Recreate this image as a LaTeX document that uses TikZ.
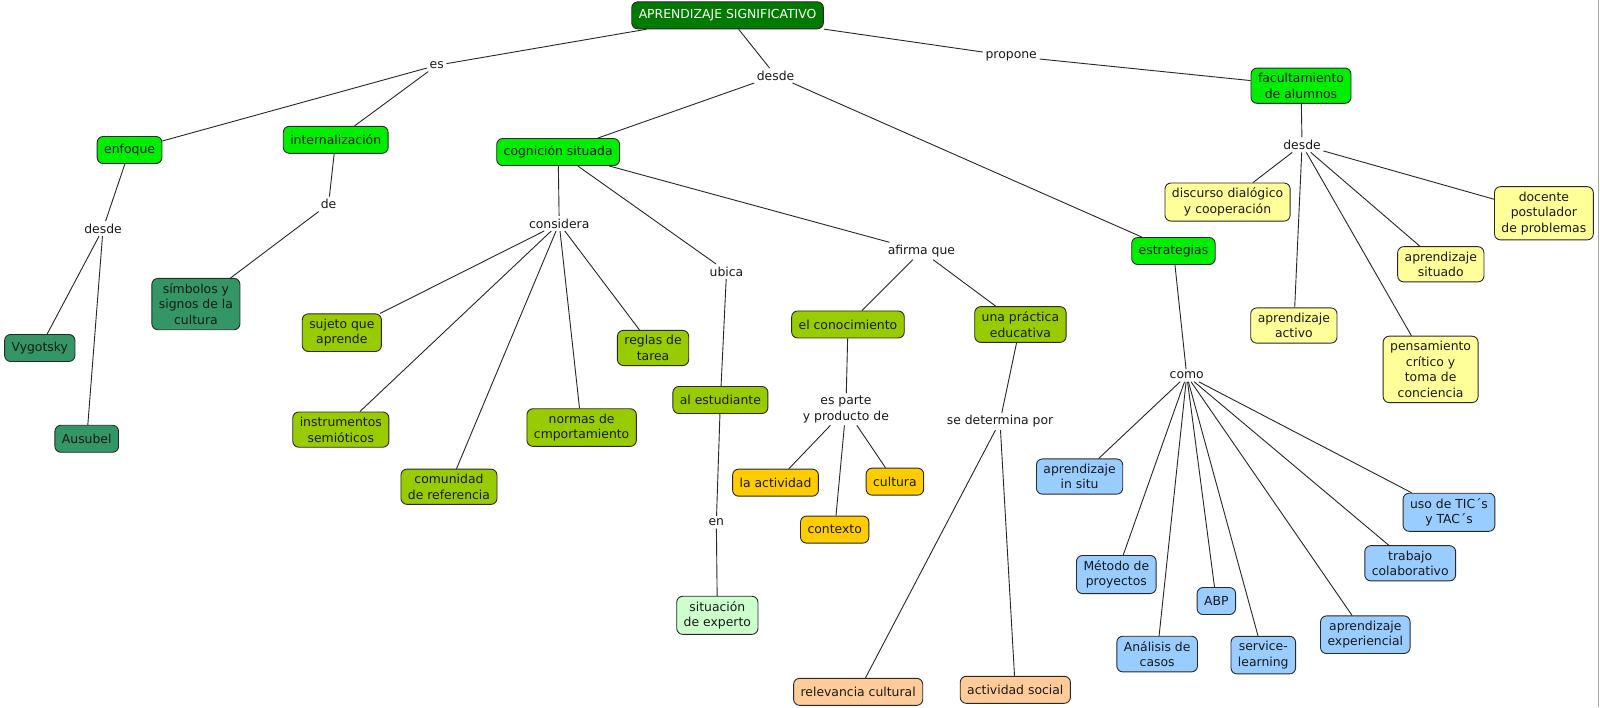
\documentclass[tikz,border=0pt]{standalone}
\usepackage{fontspec}
\setmainfont{DejaVu Sans}
\definecolor{cdark}{RGB}{0,122,0}
\definecolor{cbright}{RGB}{0,238,0}
\definecolor{cteal}{RGB}{51,150,100}
\definecolor{cyg}{RGB}{153,204,0}
\definecolor{clgreen}{RGB}{204,255,204}
\definecolor{corange}{RGB}{255,204,0}
\definecolor{cpeach}{RGB}{255,204,153}
\definecolor{cyellow}{RGB}{255,255,153}
\definecolor{cblue}{RGB}{153,204,255}
\definecolor{cborder}{RGB}{40,40,40}
\tikzset{
  txt/.style={font=\fontsize{12.4}{15.6}\selectfont},
  concept/.style={txt, draw=cborder, line width=0.9pt, rounded corners=6pt, align=center,
    inner xsep=7pt, inner ysep=5pt, minimum height=27pt, text=black!90},
  link/.style={txt, inner sep=2.5pt, align=center, text=black!90},
  edge/.style={draw=black!85, line width=0.9pt},
  kdark/.style={concept, fill=cdark, text=white},
  kbright/.style={concept, fill=cbright},
  kteal/.style={concept, fill=cteal},
  kyg/.style={concept, fill=cyg},
  klgreen/.style={concept, fill=clgreen},
  korange/.style={concept, fill=corange},
  kpeach/.style={concept, fill=cpeach},
  kyellow/.style={concept, fill=cyellow},
  kblue/.style={concept, fill=cblue}
}
\begin{document}
\begin{tikzpicture}[x=1.0204pt,y=-1.0204pt]
\useasboundingbox (0,0) rectangle (1568,693);
\fill[white] (0,0) rectangle (1568,693);
\draw[black!35, line width=1pt] (1566.5,0) -- (1566.5,693);

% concepts
\node[kdark] (A) at (713,15) {APRENDIZAJE SIGNIFICATIVO};
\node[kbright] (enf) at (127,147) {enfoque};
\node[kbright] (int) at (329,137) {internalización};
\node[kbright] (cog) at (547,149) {cognición situada};
\node[kbright] (fac) at (1275,84) {facultamiento\\de alumnos};
\node[kbright] (est) at (1150,246) {estrategias};

\node[kteal] (sim) at (192,298) {símbolos y\\signos de la\\cultura};
\node[kteal] (vyg) at (39,341) {Vygotsky};
\node[kteal] (aus) at (85,430) {Ausubel};

\node[kyg] (suj) at (335,326) {sujeto que\\aprende};
\node[kyg] (ins) at (334,421) {instrumentos\\semióticos};
\node[kyg] (com) at (440,477) {comunidad\\de referencia};
\node[kyg] (nor) at (570,419) {normas de\\cmportamiento};
\node[kyg] (reg) at (640,341) {reglas de\\tarea};
\node[kyg] (alest) at (706,392) {al estudiante};
\node[klgreen] (sit) at (703,603) {situación\\de experto};
\node[kyg] (con) at (831,318) {el conocimiento};
\node[kyg] (pra) at (1000,318) {una práctica\\educativa};

\node[korange] (act) at (760,473) {la actividad};
\node[korange] (cul) at (877,472) {cultura};
\node[korange] (ctx) at (818,519) {contexto};
\node[kpeach] (rel) at (841,678) {relevancia cultural};
\node[kpeach] (soc) at (995,676) {actividad social};

\node[kyellow] (dis) at (1203,198) {discurso dialógico\\y cooperación};
\node[kyellow] (doc) at (1513,209) {docente\\postulador\\de problemas};
\node[kyellow] (situado) at (1412,259) {aprendizaje\\situado};
\node[kyellow] (activo) at (1268,319) {aprendizaje\\activo};
\node[kyellow] (pens) at (1402,362) {pensamiento\\crítico y\\toma de\\conciencia};

\node[kblue] (insitu) at (1058,467) {aprendizaje\\in situ};
\node[kblue] (met) at (1094,563) {Método de\\proyectos};
\node[kblue] (ana) at (1134,641) {Análisis de\\casos};
\node[kblue] (abp) at (1192,589) {ABP};
\node[kblue] (serv) at (1238,642) {service-\\learning};
\node[kblue] (exp) at (1338,622) {aprendizaje\\experiencial};
\node[kblue] (trab) at (1382,552) {trabajo\\colaborativo};
\node[kblue] (tic) at (1420,502) {uso de TIC´s\\y TAC´s};

% linking phrases
\node[link] (es) at (428,64) {es};
\node[link] (desde1) at (760,74) {desde};
\node[link] (prop) at (991,55) {propone};
\node[link] (desde2) at (101,224) {desde};
\node[link] (de) at (322,200) {de};
\node[link] (cons) at (548,219) {considera};
\node[link] (ubica) at (712,266) {ubica};
\node[link] (afirma) at (903,246) {afirma que};
\node[link] (parte) at (829,401) {es parte\\y producto de};
\node[link] (en) at (702,512) {en};
\node[link] (sedet) at (980,413) {se determina por};
\node[link] (desde3) at (1276,142) {desde};
\node[link] (como) at (1163,368) {como};

% connectors
\foreach \a/\b in {A/es, es/enf, es/int, A/desde1, desde1/cog, desde1/est, A/prop, prop/fac,
  enf/desde2, desde2/vyg, desde2/aus, int/de, de/sim,
  cog/cons, cons/suj, cons/ins, cons/com, cons/nor, cons/reg,
  cog/ubica, ubica/alest, alest/en, en/sit,
  cog/afirma, afirma/con, afirma/pra,
  con/parte, parte/act, parte/ctx, parte/cul,
  pra/sedet, sedet/rel, sedet/soc,
  fac/desde3, desde3/dis, desde3/activo, desde3/pens, desde3/situado, desde3/doc,
  est/como, como/insitu, como/met, como/ana, como/abp, como/serv, como/exp, como/trab, como/tic}
  \draw[edge] (\a) -- (\b);
\end{tikzpicture}
\end{document}
